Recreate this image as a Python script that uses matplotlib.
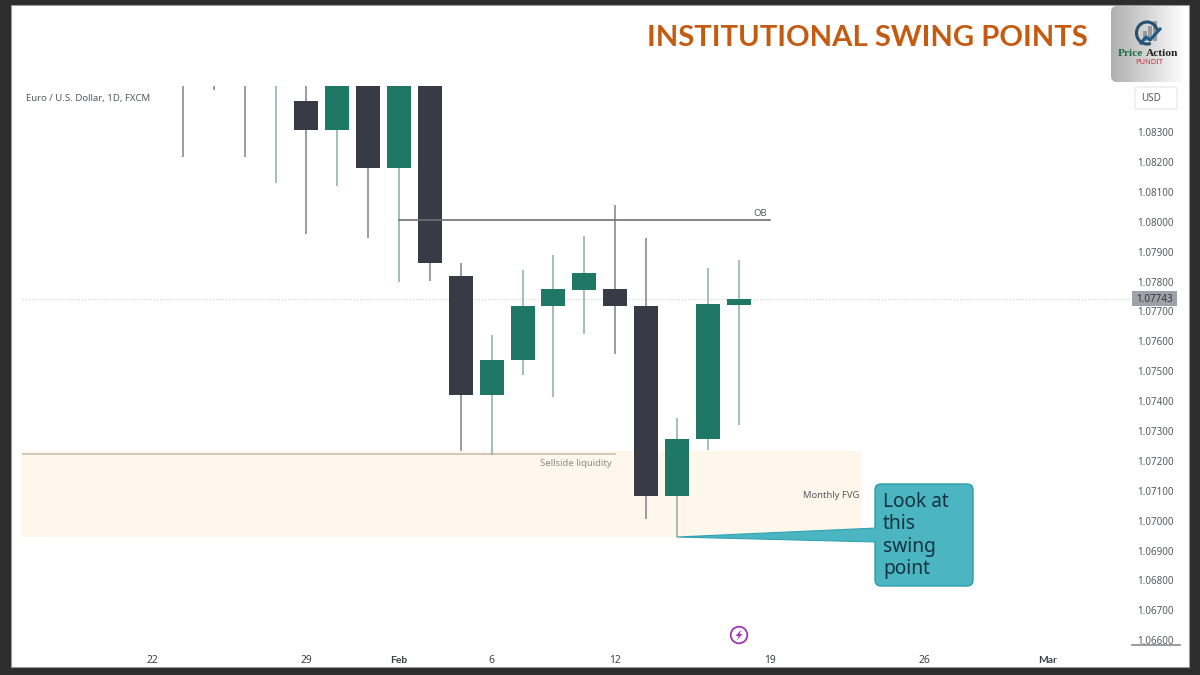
import numpy as np
import matplotlib
matplotlib.use("Agg")
import matplotlib.pyplot as plt
from matplotlib.patches import FancyBboxPatch, Rectangle, Polygon, Circle, Arc

# ---------- data ----------
idx   = [1, 2, 3, 4, 5, 6, 7, 8, 9, 10, 11, 12, 13, 14, 15, 16, 17, 18, 19]
opens = [1.0850, 1.0849, 1.0852, 1.0848, 1.08407, 1.08310, 1.0848, 1.08183, 1.0848, 1.07821,
         1.07423, 1.07540, 1.07721, 1.07775, 1.07778, 1.07721, 1.07085, 1.07276, 1.07724]
closes = [1.0855, 1.0853, 1.0849, 1.0851, 1.08310, 1.0848, 1.08183, 1.0848, 1.07865, 1.07423,
          1.07540, 1.07721, 1.07778, 1.07831, 1.07721, 1.07085, 1.07276, 1.07728, 1.07743]
highs = [1.0860, 1.0858, 1.0856, 1.0855, 1.0850, 1.0850, 1.0850, 1.0850, 1.0850, 1.07865,
         1.07624, 1.07842, 1.07892, 1.07955, 1.08059, 1.07949, 1.07346, 1.07848, 1.07875]
lows  = [1.08220, 1.08444, 1.08220, 1.08133, 1.07962, 1.08123, 1.07949, 1.07801, 1.07805, 1.07236,
         1.07222, 1.07490, 1.07417, 1.07627, 1.07560, 1.07008, 1.06948, 1.07239, 1.07323]
up = [False, False, False, True, False, True, False, True, False, False,
      True, True, True, True, False, False, True, True, True]

y_ticks = [1.083, 1.082, 1.081, 1.080, 1.079, 1.078, 1.077, 1.076, 1.075, 1.074,
           1.073, 1.072, 1.071, 1.070, 1.069, 1.068, 1.067, 1.066]
x_tick_pos = [0, 5, 8, 11, 15, 20, 25, 29]
x_tick_labels = ["22", "29", "Feb", "6", "12", "19", "26", "Mar"]

last_price = 1.07743
ob_level = 1.08009
ob_start, ob_end = 8, 20
sell_level = 1.07225
sell_start, sell_end = -4.2, 15
fvg_low, fvg_high = 1.06948, 1.07236
fvg_end = 23.0

title = "INSTITUTIONAL SWING POINTS"
symbol = "Euro / U.S. Dollar, 1D, FXCM"
callout = "Look at\nthis\nswing\npoint"

# ---------- colours ----------
DARK, GREEN = "#383b46", "#1f7866"
DARK_W, GREEN_W = "#8a8b90", "#8fb5ac"
TXT = "#555a60"
FONT = "Noto Sans"

W, H = 1200, 675
fig = plt.figure(figsize=(W / 100, H / 100), dpi=100, facecolor="#2d2d2d")


def axpix(x0, y0, x1, y1, **kw):
    return fig.add_axes([x0 / W, 1 - y1 / H, (x1 - x0) / W, (y1 - y0) / H], **kw)


bg = axpix(0, 0, W, H, zorder=0)
bg.set_xlim(0, W); bg.set_ylim(H, 0); bg.axis("off")
bg.add_patch(Rectangle((11, 5), 1177.5, 662, fc="white", ec="#9a9a9a", lw=0.8))

# ---------- chart ----------
ax = axpix(22, 86, 1130, 650, zorder=1)
ax.patch.set_alpha(0)
PX = 30.88
ax.set_xlim((22 - 152) / PX, (1130 - 152) / PX)
ax.set_ylim(1.083 - (650 - 133) / 29882, 1.083 + (133 - 86) / 29882)
ax.axis("off")

ax.add_patch(Rectangle((sell_start, fvg_low), fvg_end - sell_start, fvg_high - fvg_low,
                       fc="#fff6ec", ec="none", zorder=1))
ax.plot([sell_start, sell_end], [sell_level] * 2, color="#c8bfb2", lw=1.2, zorder=2)
ax.axhline(last_price, color="#d5d5d5", lw=0.9, ls=(0, (1, 1.5)), zorder=2)
ax.plot([ob_start, ob_end], [ob_level] * 2, color="#6f7075", lw=1.2, zorder=5)

for i, o, c, h, l, u in zip(idx, opens, closes, highs, lows, up):
    ax.plot([i, i], [l, h], color=GREEN_W if u else DARK_W, lw=1.2, zorder=3,
            solid_capstyle="butt")
    ax.bar(i, abs(c - o), bottom=min(o, c), width=24 / PX,
           color=GREEN if u else DARK, lw=0, zorder=4)

ax.text(14.9, 1.07193, "Sellside liquidity", ha="right", va="center", fontsize=6.9,
        color="#8d8d8d", family=FONT)
ax.text(19.9, ob_level + 0.00020, "OB", ha="right", va="center", fontsize=6.9, color=TXT, family=FONT)
ax.text(22.9, 1.07088, "Monthly FVG", ha="right", va="center", fontsize=6.8, color=TXT, family=FONT)
ax.text(-4.08, 1.08415, symbol, ha="left", va="center", fontsize=6.9, color=TXT, family=FONT)

# axis labels
for v in y_ticks:
    ax.annotate(f"{v:.5f}", xy=(1, v), xycoords=("axes fraction", "data"), xytext=(18.2, -0.5),
                textcoords="offset points", ha="center", va="center", fontsize=7.1,
                color=TXT, family=FONT, annotation_clip=False, zorder=6)
for p, s in zip(x_tick_pos, x_tick_labels):
    bold = s in ("Feb", "Mar")
    ax.annotate(s, xy=(p, 0), xycoords=("data", "axes fraction"), xytext=(0, -7.5),
                textcoords="offset points", ha="center", va="center", fontsize=7.4,
                color="#3c4046", family="Lato" if bold else FONT, annotation_clip=False,
                fontweight="bold" if bold else "normal")

# ---------- overlay ----------
ov = axpix(0, 0, W, H, zorder=3)
ov.set_xlim(0, W); ov.set_ylim(H, 0); ov.axis("off"); ov.patch.set_alpha(0)

ov.text(1088, 38.5, title, ha="right", va="center", fontsize=21.1, color="#c55a11",
        fontweight="bold", family="Lato")

# price axis adornments
ov.plot([1132, 1180], [645, 645], color="#8a8a8a", lw=1.2)
ov.add_patch(Rectangle((1132, 291), 45, 15, fc="#9ea1a8", ec="none"))
ov.text(1154.5, 299.5, f"{last_price:.5f}", ha="center", va="center", fontsize=7.1, color="#33363c", family=FONT)
ov.add_patch(FancyBboxPatch((1135, 87), 42, 22, boxstyle="round,pad=0,rounding_size=2",
                            fc="white", ec="#e8e8e8", lw=0.9))
ov.text(1151, 98.5, "USD", ha="center", va="center", fontsize=7.1, color=TXT, family=FONT)

# callout
tip_x, tip_y = ov.transData.inverted().transform(ax.transData.transform((17, lows[16])))
ov.add_patch(Polygon([(tip_x, tip_y), (877, 528), (877, 542)], closed=True, fc="#4bb5c1",
                     ec="#2fa3b0", lw=0.8, zorder=4))
ov.add_patch(FancyBboxPatch((875, 484), 98, 102, boxstyle="round,pad=0,rounding_size=6",
                            fc="#4bb5c1", ec="#2e9cab", lw=1.0, zorder=4))
ov.add_patch(Polygon([(870, 529), (878, 528.5), (878, 541.5), (870, 541)], closed=True, fc="#4bb5c1", ec="none", zorder=5))
ov.text(883, 535.5, callout, ha="left", va="center", fontsize=13.8, color="#12323f",
        family=FONT, linespacing=1.15, zorder=6)

# bolt icon
ov.add_patch(Circle((739, 635), 8.3, fc="white", ec="#9c36b5", lw=1.3))
ov.add_patch(Polygon([(741.5, 629.5), (735.5, 636), (738.7, 636), (736.7, 640.5), (742.5, 634), (739.5, 634)],
                     closed=True, fc="#9c36b5", ec="none"))

# logo
lg = axpix(1110, 5, 1186, 83, zorder=4)
grad = np.linspace(0.68, 1.0, 256)[None, :]
im = lg.imshow(grad, cmap="gray", vmin=0, vmax=1, extent=(1110, 1186, 83, 5), aspect="auto")
clip = FancyBboxPatch((1111, 6), 80, 76, boxstyle="round,pad=0,rounding_size=6",
                      transform=lg.transData, fc="none", ec="none")
lg.add_patch(clip)
im.set_clip_path(clip)
lg.set_xlim(1110, 1186); lg.set_ylim(83, 5); lg.axis("off")
for bx, bt in zip([1143, 1148, 1153], [31, 26, 21]):
    lg.add_patch(Rectangle((bx, bt), 4.2, 41 - bt, fc="#9a9a9a", ec="none"))
lg.add_patch(Arc((1147, 33), 21, 22, theta1=70, theta2=345, ec="#27506f", lw=2.2))
lg.plot([1141, 1146, 1150, 1160], [43, 37, 40, 29], color="#1d5c8a", lw=2.2)
lg.text(1143.5, 53, "Price", ha="right", va="center", fontsize=8.2, fontweight="bold",
        color="#1d6b46", family="Liberation Serif")
lg.text(1146, 53, "Action", ha="left", va="center", fontsize=8.2, fontweight="bold",
        color="#222222", family="Liberation Serif")
lg.text(1149, 63, "PUNDIT", ha="center", va="center", fontsize=5.4, color="#c8323c", family=FONT)

fig.savefig("out.png", dpi=100, facecolor=fig.get_facecolor())
